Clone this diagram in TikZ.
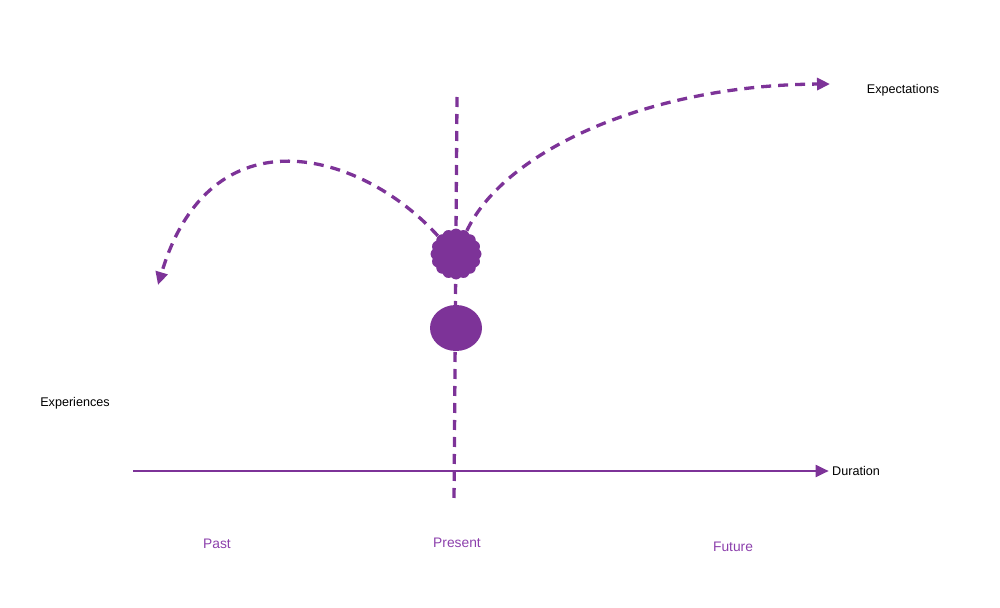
\documentclass[tikz,border=0pt]{standalone}
\usepackage{fontspec}
\setmainfont{Liberation Sans}
\usetikzlibrary{shapes.symbols}
\usetikzlibrary{shapes.geometric}
\usetikzlibrary{arrows.meta}
\usepackage{xcolor}
\definecolor{plum}{HTML}{7D3398}
\definecolor{plumtext}{HTML}{8C40AC}

\begin{document}
\begin{tikzpicture}[x=1pt,y=-1pt,>={Triangle[length=13pt,width=12pt]},
  dashline/.style={plum,line width=3.3pt,dash pattern=on 10pt off 7pt},
  lbl/.style={font=\fontsize{12.6}{14}\selectfont},
  era/.style={font=\fontsize{13.8}{16}\selectfont,text=plumtext}]
\useasboundingbox (0,0) rectangle (1000,607);

\coordinate (top) at (457,97);
\coordinate (bottom) at (454,502);
\draw [dashline] (top) -- (bottom);

\node [cloud,cloud puffs=16,cloud puff arc=100,aspect=1,minimum size=51pt,inner sep=0pt,fill=plum] (now) at (456,254) {};
\node [ellipse,fill=plum,minimum width=52pt,minimum height=46pt,inner sep=0pt] (self) at (456,328) {};

\coordinate (axisstart) at (133,471);
\node [lbl] (dur) at (856,471) {Duration};
\draw [plum,line width=2pt,->] (axisstart) -- (dur.west);

\node [lbl] (expect) at (903,90) {Expectations};
\node [lbl] (exper) at (75,403) {Experiences};

\coordinate (pastend) at (158,285);
\coordinate (futend) at (830,84);
\draw [dashline,->] (now.135) .. controls (360,150) and (210,110) .. (pastend);
\draw [dashline,->] (now.65) .. controls (505,150) and (650,85) .. (futend);

\node [era] (past) at (217,544) {Past};
\node [era] (present) at (457,543) {Present};
\node [era] (future) at (733,547) {Future};
\end{tikzpicture}
\end{document}
